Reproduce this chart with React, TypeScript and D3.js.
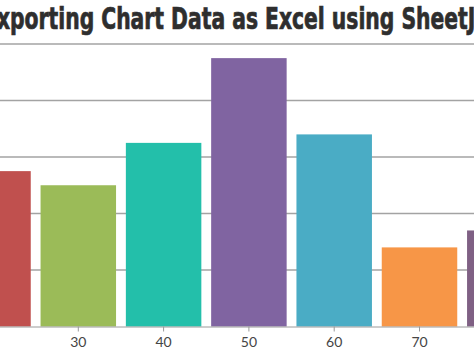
import React from "react";
import * as d3 from "d3";

const xValues = [10, 20, 30, 40, 50, 60, 70, 80, 90];
const yValues = [71, 55, 50, 65, 95, 68, 28, 34, 14];
const barColors = [
  "#4F81BC",
  "#C0504E",
  "#9BBB58",
  "#23BFAA",
  "#8064A1",
  "#4AACC5",
  "#F79647",
  "#7F6084",
  "#77A033",
];
const yTicks = [0, 20, 40, 60, 80, 100];
const title = "Exporting Chart Data as Excel using SheetJS";

const width = 474;
const height = 355;

export default function App() {
  // the visible frame is a crop of a wider chart, so scales run past the edges
  const xScale = d3.scaleLinear().domain([30, 70]).range([78.3, 419.5]);
  const yScale = d3.scaleLinear().domain([0, 100]).range([326.5, 44]);
  const barWidth = (xScale(40) - xScale(30)) * 0.885;
  const baseline = yScale(0);

  // only labels that sit fully inside the frame
  const shownTicks = xValues.filter((x) => xScale(x) > 12 && xScale(x) < width - 12);

  return (
    <svg
      width={width}
      height={height}
      style={{ position: "absolute", left: 0, top: 0, background: "#fff" }}
    >
      <text
        x={-17}
        y={29}
        textLength={507}
        lengthAdjust="spacingAndGlyphs"
        fontFamily="'DejaVu Sans Condensed', 'Liberation Sans Narrow', sans-serif"
        fontWeight="bold"
        fontSize={30}
        fill="#2e2e2e"
        stroke="#2e2e2e"
        strokeWidth={0.7}
      >
        {title}
      </text>

      {/* grid */}
      {yTicks
        .filter((t) => t > 0)
        .map((t) => (
          <line
            key={t}
            x1={0}
            x2={width}
            y1={yScale(t)}
            y2={yScale(t)}
            stroke="#a3a3a3"
            strokeWidth={1.4}
          />
        ))}

      {/* bars */}
      {xValues.map((x, i) => (
        <rect
          key={x}
          x={xScale(x) - barWidth / 2}
          y={yScale(yValues[i])}
          width={barWidth}
          height={baseline - yScale(yValues[i])}
          fill={barColors[i]}
        />
      ))}

      {/* x axis */}
      <line
        x1={0}
        x2={width}
        y1={baseline + 0.5}
        y2={baseline + 0.5}
        stroke="#9a9a9a"
        strokeWidth={1}
      />
      {shownTicks.map((x) => (
        <g key={x} transform={`translate(${xScale(x)},${baseline})`}>
          <line y1={0} y2={5} stroke="#9a9a9a" />
          <text
            y={20}
            textAnchor="middle"
            fontFamily="Lato, 'Open Sans', sans-serif"
            fontSize={14}
            fill="#454545"
          >
            {x}
          </text>
        </g>
      ))}
    </svg>
  );
}
